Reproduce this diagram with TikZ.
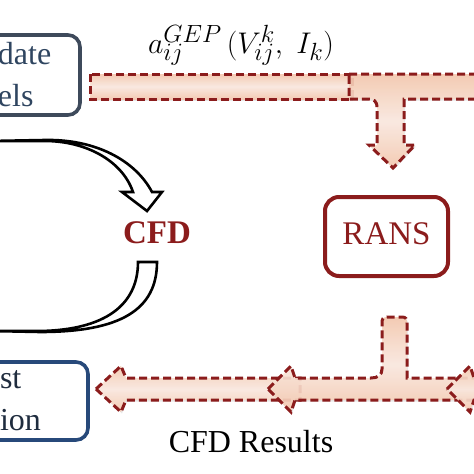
\documentclass[tikz,border=0pt]{standalone}
\usepackage{fontspec}
\setmainfont{Liberation Serif}
\usetikzlibrary{shadows}
\definecolor{darkred}{HTML}{8B1C1C}
\definecolor{peach}{HTML}{F4C2A6}
\definecolor{slate}{HTML}{3E4A5B}
\definecolor{slatetext}{HTML}{2F4560}
\definecolor{navy}{HTML}{27497A}
\definecolor{navytext}{HTML}{1F2C3E}
\tikzset{
  bar/.style={draw=darkred, line width=3pt, dash pattern=on 8pt off 4pt,
    top color=peach!90, bottom color=peach!90, middle color=peach!35,
    fill opacity=.9, drop shadow={opacity=.18, shadow xshift=1pt, shadow yshift=-1.5pt}},
  hollow/.style={draw=black, line width=2.6pt, fill=white, line join=miter},
  box/.style={rounded corners=12pt, line width=3.6pt, align=left,
    font=\fontsize{32}{42}\selectfont},
}
\begin{document}
\begin{tikzpicture}[x=1pt, y=-1pt]
\useasboundingbox (0,0) rectangle (474,474);
\clip (0,0) rectangle (474,474);
\node[box, draw=slate, text=slatetext, text width=54pt, inner xsep=28pt, minimum width=110pt, minimum height=80pt] (u) at (25,75) {date\\els};
\node[box, draw=navy, text=navytext, text width=58pt, inner xsep=30pt, minimum width=118pt, minimum height=78pt] (t) at (29,401) {st\\ion};
\node[font=\Huge, scale=1.2, transform shape, anchor=base] (g) at (241,53) {$a_{ij}^{GEP}\,(V_{ij}^{k},\; I_{k})$};
\node[font=\fontsize{33}{40}\selectfont\bfseries, text=darkred] (c) at (157,233) {CFD};
\node[draw=darkred, line width=4pt, rounded corners=14pt, minimum width=123pt, minimum height=79pt, text height=22pt, text depth=7pt, text=darkred, font=\fontsize{33}{40}\selectfont] (r) at (386.5,236.5) {RANS};
\node[font=\fontsize{32}{38}\selectfont] (cr) at (251,442) {CFD Results};
\draw[bar] (90,74) rectangle (352,99);
\draw[bar] (349,74) -- (490,74) -- (490,99) -- (404,99) -- (404,145) -- (415,145) -- (393,168) -- (369,145) -- (377,145) -- (377,108) .. controls (377,101) and (374,99) .. (368,99) -- (349,99) -- cycle;
\draw[bar] (96,389) -- (121,366) -- (126,378) -- (300,378) -- (300,400) -- (126,400) -- (121,412) -- cycle;
\draw[bar] (268,389) -- (291,366) -- (295,378) -- (371,378) .. controls (378,378) and (382,375) .. (382,369) -- (382,323) .. controls (382,319) and (383,317) .. (387,317) -- (402,317) .. controls (406,317) and (407,319) .. (407,323) -- (407,378) -- (480,378) -- (480,400) -- (295,400) -- (291,412) -- cycle;
\draw[bar] (447,389) -- (470,366) -- (474,378) -- (490,378) -- (490,400) -- (474,400) -- (470,412) -- cycle;
\draw[hollow] (-10,141) -- (45,140) .. controls (95,139) and (135,160) .. (152,192) -- (162,192) -- (147,211) -- (122,192) -- (133,192) .. controls (122,160) and (85,141) .. (45,141) -- cycle;
\draw[hollow] (-10,331) -- (40,332) .. controls (120,332) and (157,310) .. (157,262) -- (138,262) .. controls (138,305) and (105,330) .. (40,331) -- cycle;
\end{tikzpicture}
\end{document}
